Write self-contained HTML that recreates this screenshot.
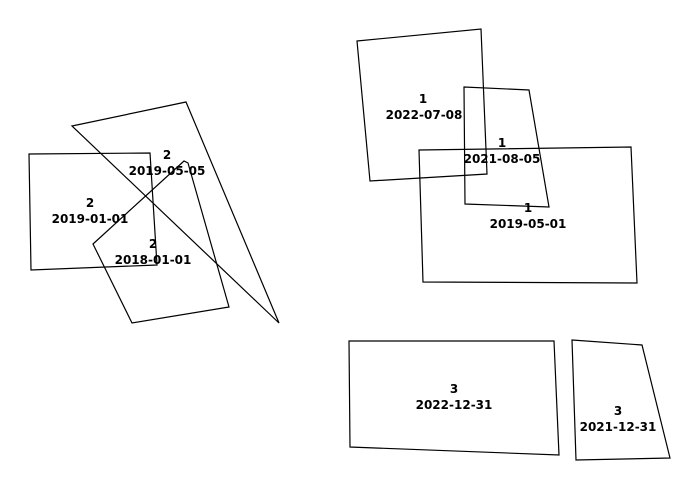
<!DOCTYPE html>
<html><head><style>body{margin:0;background:#fff}svg{display:block}text{font-family:"DejaVu Sans",sans-serif;font-weight:bold;font-size:12px;text-anchor:middle;fill:#000}</style></head>
<body>
<svg width="693" height="487" viewBox="0 0 693 487">
<g fill="none" stroke="#000" stroke-width="1.2">
<polygon points="29,154 150,153 157,265 31,270"/>
<polygon points="72,126 186,102 279,323"/>
<polygon points="93,244 184,161 188,163 229,307 132,323"/>
<polygon points="357,41 481,29 487,174 370,181"/>
<polygon points="464,87 529,90 549,207 465,204"/>
<polygon points="419,150 631,147 637,283 423,282"/>
<polygon points="349,341 554,341 559,455 350,447"/>
<polygon points="572,340 642,345 670,458 576,460"/>
</g>
<text x="423" y="103">1</text><text x="424" y="119">2022-07-08</text>
<text x="502" y="147">1</text><text x="502" y="163">2021-08-05</text>
<text x="528" y="212">1</text><text x="528" y="228">2019-05-01</text>
<text x="167" y="159">2</text><text x="167" y="175">2019-05-05</text>
<text x="90" y="207">2</text><text x="90" y="223">2019-01-01</text>
<text x="153" y="248">2</text><text x="153" y="264">2018-01-01</text>
<text x="454" y="393">3</text><text x="454" y="409">2022-12-31</text>
<text x="618" y="415">3</text><text x="618" y="431">2021-12-31</text>
</svg>
</body></html>
